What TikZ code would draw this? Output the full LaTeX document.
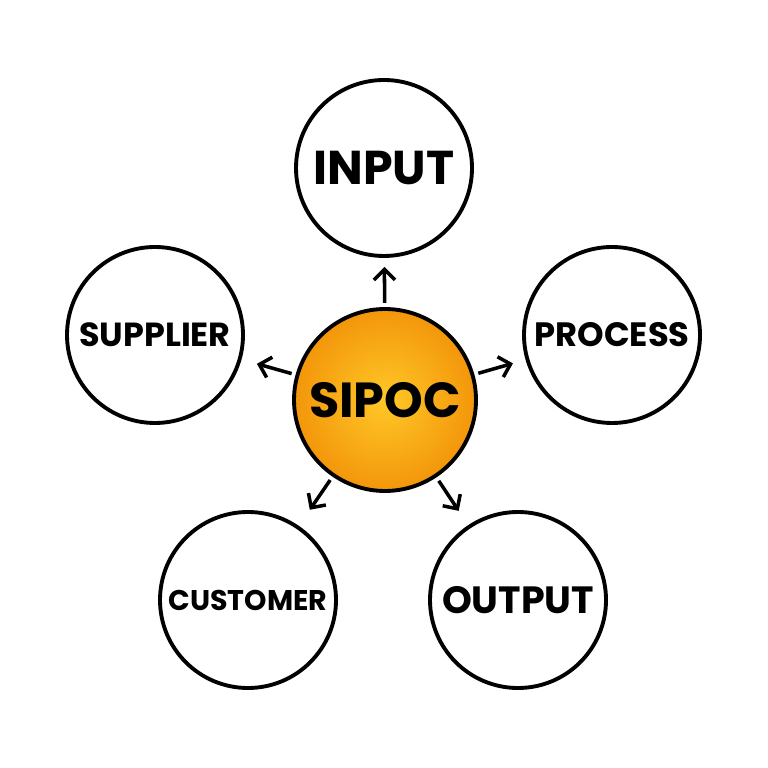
\documentclass[tikz,border=0pt]{standalone}
\usepackage{fontspec}
\usetikzlibrary{arrows.meta,calc}
\setmainfont{Poppins}
\begin{document}
\begin{tikzpicture}[x=0.01cm,y=-0.01cm,
  circ/.style={circle,draw=black,line width=1.1pt,minimum size=176*0.01cm,inner sep=0pt,font=\bfseries},
  arr/.style={-{Straight Barb[length=3pt,width=6pt]},line width=1pt}]
\useasboundingbox (0,0) rectangle (768,768);
\node[circ,minimum size=182*0.01cm,inner color={rgb,255:red,255;green,200;blue,40},outer color={rgb,255:red,243;green,150;blue,10},font=\bfseries\fontsize{14}{16}\selectfont] (c) at (385,400) {SIPOC};
\node[circ,font=\bfseries\fontsize{13.5}{16}\selectfont] (i) at (384,168) {INPUT};
\node[circ,font=\bfseries\fontsize{9.5}{12}\selectfont] (s) at (155,335) {SUPPLIER};
\node[circ,font=\bfseries\fontsize{9.6}{12}\selectfont] (p) at (612,335) {PROCESS};
\node[circ,font=\bfseries\fontsize{8.1}{10}\selectfont] (cu) at (248,600) {CUSTOMER};
\node[circ,font=\bfseries\fontsize{10.8}{13}\selectfont] (o) at (518,600) {OUTPUT};
\foreach \t in {i,s,p,cu,o}{\draw[arr] ($(c.center)!0.97cm!(\t.center)$) -- ($(c.center)!1.33cm!(\t.center)$);}
\end{tikzpicture}
\end{document}
